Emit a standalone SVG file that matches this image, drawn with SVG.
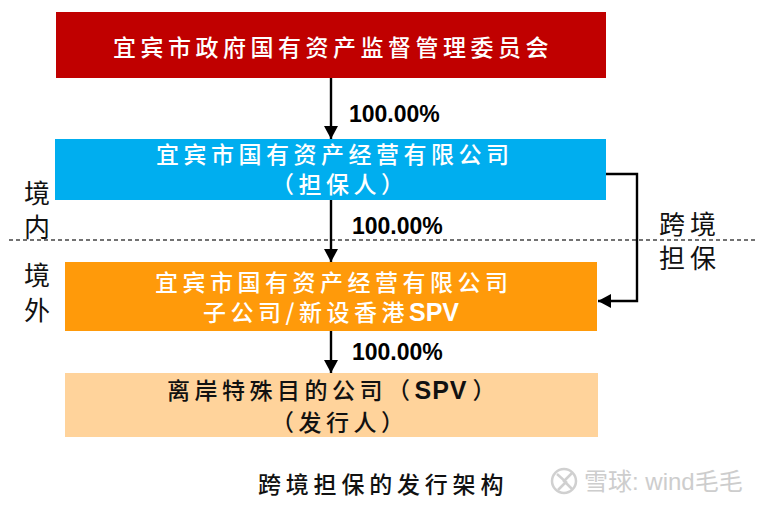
<svg xmlns="http://www.w3.org/2000/svg" width="767" height="505" viewBox="0 0 767 505">
<style>
.box{font-family:"Noto Sans CJK SC","Liberation Sans",sans-serif;font-size:23px;letter-spacing:4.5px;font-weight:500;fill:#fff}
.dark{fill:#111}
.pct{font-family:"Liberation Sans",sans-serif;font-size:23px;font-weight:700;fill:#000}
.side{font-family:"Noto Sans CJK SC",sans-serif;font-size:26px;fill:#111}
.lat{font-family:"Liberation Sans",sans-serif;font-weight:700}
.conn{fill:none;stroke:#000;stroke-width:2.4}
</style>
<defs>
<marker id="arrow" markerUnits="userSpaceOnUse" markerWidth="14" markerHeight="14" refX="13" refY="7" orient="auto">
<path d="M0 0L13 7L0 14Z" fill="#000"/>
</marker>
</defs>
<rect width="767" height="505" fill="#fff"/>
<g id="divider"><line x1="9" y1="240" x2="757" y2="240" stroke="#444" stroke-width="1.3" stroke-dasharray="4 3"/></g>
<g id="connectors">
<path class="conn" d="M331 78V139" marker-end="url(#arrow)"/>
<path class="conn" d="M331 200V262" marker-end="url(#arrow)"/>
<path class="conn" d="M331 331V373" marker-end="url(#arrow)"/>
<path class="conn" d="M606 174H637V301H598" marker-end="url(#arrow)"/>
</g>
<g id="node-commission">
<rect x="56" y="12" width="550" height="66" fill="#c00000"/>
<text class="box" x="113" y="56">宜宾市政府国有资产监督管理委员会</text>
</g>
<g id="node-guarantor">
<rect x="55" y="139" width="551" height="61" fill="#00aeef"/>
<text class="box" x="156" y="163">宜宾市国有资产经营有限公司</text>
<text class="box" x="271" y="193">（担保人）</text>
</g>
<g id="node-subsidiary">
<rect x="65" y="262" width="532" height="69" fill="#ff9a0a"/>
<text class="box" x="155" y="291">宜宾市国有资产经营有限公司</text>
<text class="box" x="203" y="321">子公司/新设香港<tspan class="lat" font-size="25" letter-spacing="0">SPV</tspan></text>
</g>
<g id="node-issuer">
<rect x="65" y="373" width="533" height="64" fill="#ffd39b"/>
<text class="box dark" x="167" y="399">离岸特殊目的公司（<tspan class="lat" font-size="25" letter-spacing="1">SPV</tspan><tspan dx="5">）</tspan></text>
<text class="box dark" x="271" y="431">（发行人）</text>
</g>
<g id="labels">
<text class="pct" x="349" y="122">100.00%</text>
<text class="pct" x="352" y="234">100.00%</text>
<text class="pct" x="352" y="360">100.00%</text>
<text class="side" x="24" y="203">境</text>
<text class="side" x="24" y="237">内</text>
<text class="side" x="24" y="285">境</text>
<text class="side" x="24" y="320">外</text>
<text class="side" x="659" y="234" letter-spacing="5">跨境</text>
<text class="side" x="659" y="268" letter-spacing="5">担保</text>
<text class="box dark" x="258" y="493" style="letter-spacing:4.8px">跨境担保的发行架构</text>
</g>
<g id="watermark" opacity="0.9">
<circle cx="564" cy="481" r="12" fill="none" stroke="#ccc" stroke-width="2.5"/>
<path d="M557 474L566 482L558 490M572 473L564 481L572 489" fill="none" stroke="#ccc" stroke-width="2.5"/>
<text x="584" y="490" font-family="'Noto Sans CJK SC',sans-serif" font-size="24" fill="#c8c8c8">雪球<tspan font-family="'Liberation Sans',sans-serif">: wind</tspan>毛毛</text>
</g>
</svg>
